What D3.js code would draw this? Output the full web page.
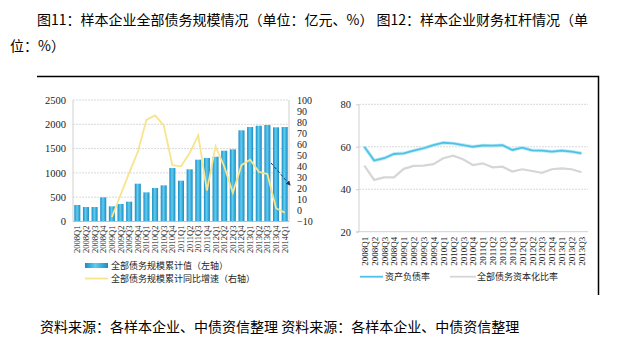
<!DOCTYPE html>
<html><head><meta charset="utf-8">
<script src="https://cdn.jsdelivr.net/npm/d3@7"></script>
<style>body{margin:0;background:#fff}svg{display:block}</style>
</head><body>
<script>
// ---- data ----
const quartersL = ["2008Q1","2008Q2","2008Q3","2008Q4","2009Q1","2009Q2","2009Q3","2009Q4","2010Q1","2010Q2","2010Q3","2010Q4","2011Q1","2011Q2","2011Q3","2011Q4","2012Q1","2012Q2","2012Q3","2012Q4","2013Q1","2013Q2","2013Q3","2013Q4","2014Q1"];
const debtTotal = [340,298,298,497,312,360,408,778,600,690,744,1100,840,1074,1272,1306,1333,1457,1485,1876,1944,1971,1985,1938,1944];
const debtGrowth = [null,null,null,null,-6,14,34,53,82,86,77,41,40,52,68,18,58,40,16,41,46,35,33,2,-2];
const leftTicks = [0,500,1000,1500,2000,2500];
const rightTicks = [-10,0,10,20,30,40,50,60,70,80,90,100];
const quartersR = ["2008Q1","2008Q2","2008Q3","2008Q4","2009Q1","2009Q2","2009Q3","2009Q4","2010Q1","2010Q2","2010Q3","2010Q4","2011Q1","2011Q2","2011Q3","2011Q4","2012Q1","2012Q2","2012Q3","2012Q4","2013Q1","2013Q2","2013Q3"];
const debtRatio = [60.0,53.5,54.6,56.6,56.9,58.2,59.3,60.8,61.9,61.6,60.8,60.0,60.6,60.5,60.7,58.5,59.6,58.3,58.2,57.7,58.2,57.7,56.9];
const capRatio = [51.1,44.4,45.6,45.6,49.6,51.0,51.1,51.8,54.6,55.8,54.1,51.4,52.2,50.3,50.6,48.3,49.4,48.6,47.7,49.4,49.8,49.4,48.0];
const ratioTicks = [20,40,60,80];
const titleLine1 = "图11：样本企业全部债务规模情况（单位：亿元、%） 图12：样本企业财务杠杆情况（单";
const titleLine2 = "位：%）";
const sourceText = "资料来源：各样本企业、中债资信整理 资料来源：各样本企业、中债资信整理";
const legendL = ["全部债务规模累计值（左轴）","全部债务规模累计同比增速（右轴）"];
const legendR = ["资产负债率","全部债务资本化比率"];

const W = 621, H = 349;
const svg = d3.select("body").append("svg").attr("width", W).attr("height", H);
const cjk = "'Noto Sans CJK SC','Noto Sans',sans-serif";
const serif = "'Liberation Serif','DejaVu Serif',serif";

// titles
svg.append("text").attr("x", 37).attr("y", 25).attr("font-family", cjk).attr("font-size", 14).attr("fill", "#000").text(titleLine1);
svg.append("text").attr("x", 10).attr("y", 51).attr("font-family", cjk).attr("font-size", 14).attr("fill", "#000").text(titleLine2);
svg.append("text").attr("x", 40).attr("y", 332).attr("font-family", cjk).attr("font-size", 14).attr("fill", "#000").text(sourceText);

// frame
svg.append("path").attr("d", "M37,76.5H598.5V295").attr("fill", "none").attr("stroke", "#000").attr("stroke-width", 1.5);

// defs
const defs = svg.append("defs");
const grad = defs.append("linearGradient").attr("id", "barg").attr("x1", "0").attr("x2", "1").attr("y1", "0").attr("y2", "0");
grad.append("stop").attr("offset", "0%").attr("stop-color", "#1a8cc2");
grad.append("stop").attr("offset", "45%").attr("stop-color", "#5fcdf2");
grad.append("stop").attr("offset", "100%").attr("stop-color", "#1a8cc2");
defs.append("marker").attr("id", "arr").attr("viewBox", "0 0 10 10").attr("refX", 8).attr("refY", 5)
  .attr("markerWidth", 5).attr("markerHeight", 5).attr("orient", "auto")
  .append("path").attr("d", "M0,0L10,5L0,10z").attr("fill", "#1f3864");

// ---- left chart ----
const L = {x0: 73, x1: 289, y0: 100, y1: 221.5};
const xL = d3.scaleBand().domain(quartersL).range([L.x0, L.x1]).paddingInner(0.3).paddingOuter(0.15);
const yL = d3.scaleLinear().domain([0, 2500]).range([L.y1, L.y0]);
const yR = d3.scaleLinear().domain([-10, 100]).range([L.y1, L.y0]);

const gl = svg.append("g");
gl.selectAll("line.grid").data(leftTicks.slice(1)).join("line")
  .attr("x1", L.x0).attr("x2", L.x1).attr("y1", d => yL(d)).attr("y2", d => yL(d))
  .attr("stroke", "#d9d9d9").attr("stroke-width", 1).attr("stroke-dasharray", "2,1");
gl.append("line").attr("x1", L.x0).attr("x2", L.x0).attr("y1", L.y0).attr("y2", L.y1).attr("stroke", "#d0d0d0");
gl.append("line").attr("x1", L.x1).attr("x2", L.x1).attr("y1", L.y0).attr("y2", L.y1).attr("stroke", "#d0d0d0");

gl.selectAll("rect.bar").data(quartersL).join("rect")
  .attr("x", d => xL(d)).attr("width", xL.bandwidth())
  .attr("y", (d, i) => yL(debtTotal[i])).attr("height", (d, i) => yL(0) - yL(debtTotal[i]))
  .attr("fill", "url(#barg)");
gl.append("line").attr("x1", L.x0).attr("x2", L.x1).attr("y1", L.y1).attr("y2", L.y1).attr("stroke", "#bfbfbf");

const lineL = d3.line().defined(d => d[1] != null).x(d => xL(d[0]) + xL.bandwidth() / 2).y(d => yR(d[1]));
gl.append("path").datum(quartersL.map((q, i) => [q, debtGrowth[i]])).attr("d", lineL)
  .attr("fill", "none").attr("stroke", "#f7e48c").attr("stroke-width", 1.8);

// left axis
const axL = d3.axisLeft(yL).tickValues(leftTicks).tickFormat(d3.format("d")).tickSize(0).tickPadding(7);
const gaL = gl.append("g").attr("transform", `translate(${L.x0},0)`).call(axL);
gaL.select(".domain").remove();
gaL.selectAll("text").attr("font-family", serif).attr("font-size", 10.5).attr("fill", "#222");
const axR = d3.axisRight(yR).tickValues(rightTicks).tickFormat(d3.format("d")).tickSize(0).tickPadding(8);
const gaR = gl.append("g").attr("transform", `translate(${L.x1},0)`).call(axR);
gaR.select(".domain").remove();
gaR.selectAll("text").attr("font-family", serif).attr("font-size", 10).attr("fill", "#222");
// x labels
gl.selectAll("text.xl").data(quartersL).join("text")
  .attr("transform", d => `translate(${xL(d) + xL.bandwidth() / 2 + 3},${L.y1 + 4}) rotate(-90)`)
  .attr("text-anchor", "end").attr("font-family", serif).attr("font-size", 8.5).attr("fill", "#222").text(d => d);

// arrow
gl.append("line").attr("x1", xL("2013Q4") - 2).attr("y1", yR(43)).attr("x2", L.x1 + 1).attr("y2", yR(23))
  .attr("stroke", "#1f3864").attr("stroke-width", 1).attr("stroke-dasharray", "3,2").attr("marker-end", "url(#arr)");

// left legend
gl.append("rect").attr("x", 85).attr("y", 263).attr("width", 23).attr("height", 5).attr("fill", "url(#barg)");
gl.append("text").attr("x", 111).attr("y", 269).attr("font-family", cjk).attr("font-size", 9).attr("fill", "#222").text(legendL[0]);
gl.append("line").attr("x1", 85).attr("x2", 108).attr("y1", 278.5).attr("y2", 278.5).attr("stroke", "#f7e48c").attr("stroke-width", 1.8);
gl.append("text").attr("x", 111).attr("y", 282).attr("font-family", cjk).attr("font-size", 9).attr("fill", "#222").text(legendL[1]);

// ---- right chart ----
const R = {x0: 359, x1: 588, y0: 104.3, y1: 231.7};
const xR = d3.scalePoint().domain(quartersR).range([364.3, 364.3 + 22 * 9.87]);
const yQ = d3.scaleLinear().domain([20, 80]).range([R.y1, R.y0]);
const gr = svg.append("g");
gr.selectAll("line.grid").data(ratioTicks.slice(1)).join("line")
  .attr("x1", R.x0).attr("x2", R.x1).attr("y1", d => yQ(d)).attr("y2", d => yQ(d))
  .attr("stroke", "#d9d9d9").attr("stroke-dasharray", "2,1");
gr.append("line").attr("x1", R.x0).attr("x2", R.x0).attr("y1", R.y0).attr("y2", R.y1).attr("stroke", "#d0d0d0");
gr.append("line").attr("x1", R.x0 - 3).attr("x2", R.x1).attr("y1", R.y1).attr("y2", R.y1).attr("stroke", "#d0d0d0");
const axQ = d3.axisLeft(yQ).tickValues(ratioTicks).tickSize(3).tickPadding(5);
const gaQ = gr.append("g").attr("transform", `translate(${R.x0},0)`).call(axQ);
gaQ.select(".domain").remove();
gaQ.selectAll("line").attr("stroke", "#d0d0d0");
gaQ.selectAll("text").attr("font-family", serif).attr("font-size", 10.5).attr("fill", "#222");

const lineR = d3.line().x(d => xR(d[0])).y(d => yQ(d[1]));
gr.append("path").datum(quartersR.map((q, i) => [q, capRatio[i]])).attr("d", lineR)
  .attr("fill", "none").attr("stroke", "#d6d6d6").attr("stroke-width", 2.2);
gr.append("path").datum(quartersR.map((q, i) => [q, debtRatio[i]])).attr("d", lineR)
  .attr("fill", "none").attr("stroke", "#bfeaf7").attr("stroke-width", 3.5);
gr.append("path").datum(quartersR.map((q, i) => [q, debtRatio[i]])).attr("d", lineR)
  .attr("fill", "none").attr("stroke", "#4cc3e6").attr("stroke-width", 1.8);

gr.selectAll("text.xl").data(quartersR).join("text")
  .attr("transform", d => `translate(${xR(d) + 3.5},${R.y1 + 5}) rotate(-90)`)
  .attr("text-anchor", "end").attr("font-family", serif).attr("font-size", 9).attr("fill", "#222").text(d => d);

gr.append("line").attr("x1", 360).attr("x2", 383).attr("y1", 276.7).attr("y2", 276.7).attr("stroke", "#4cc3e6").attr("stroke-width", 1.8);
gr.append("text").attr("x", 385).attr("y", 280).attr("font-family", cjk).attr("font-size", 9).attr("fill", "#222").text(legendR[0]);
gr.append("line").attr("x1", 450).attr("x2", 476).attr("y1", 276.7).attr("y2", 276.7).attr("stroke", "#d6d6d6").attr("stroke-width", 1.8);
gr.append("text").attr("x", 477).attr("y", 280).attr("font-family", cjk).attr("font-size", 9).attr("fill", "#222").text(legendR[1]);
</script>
</body></html>
